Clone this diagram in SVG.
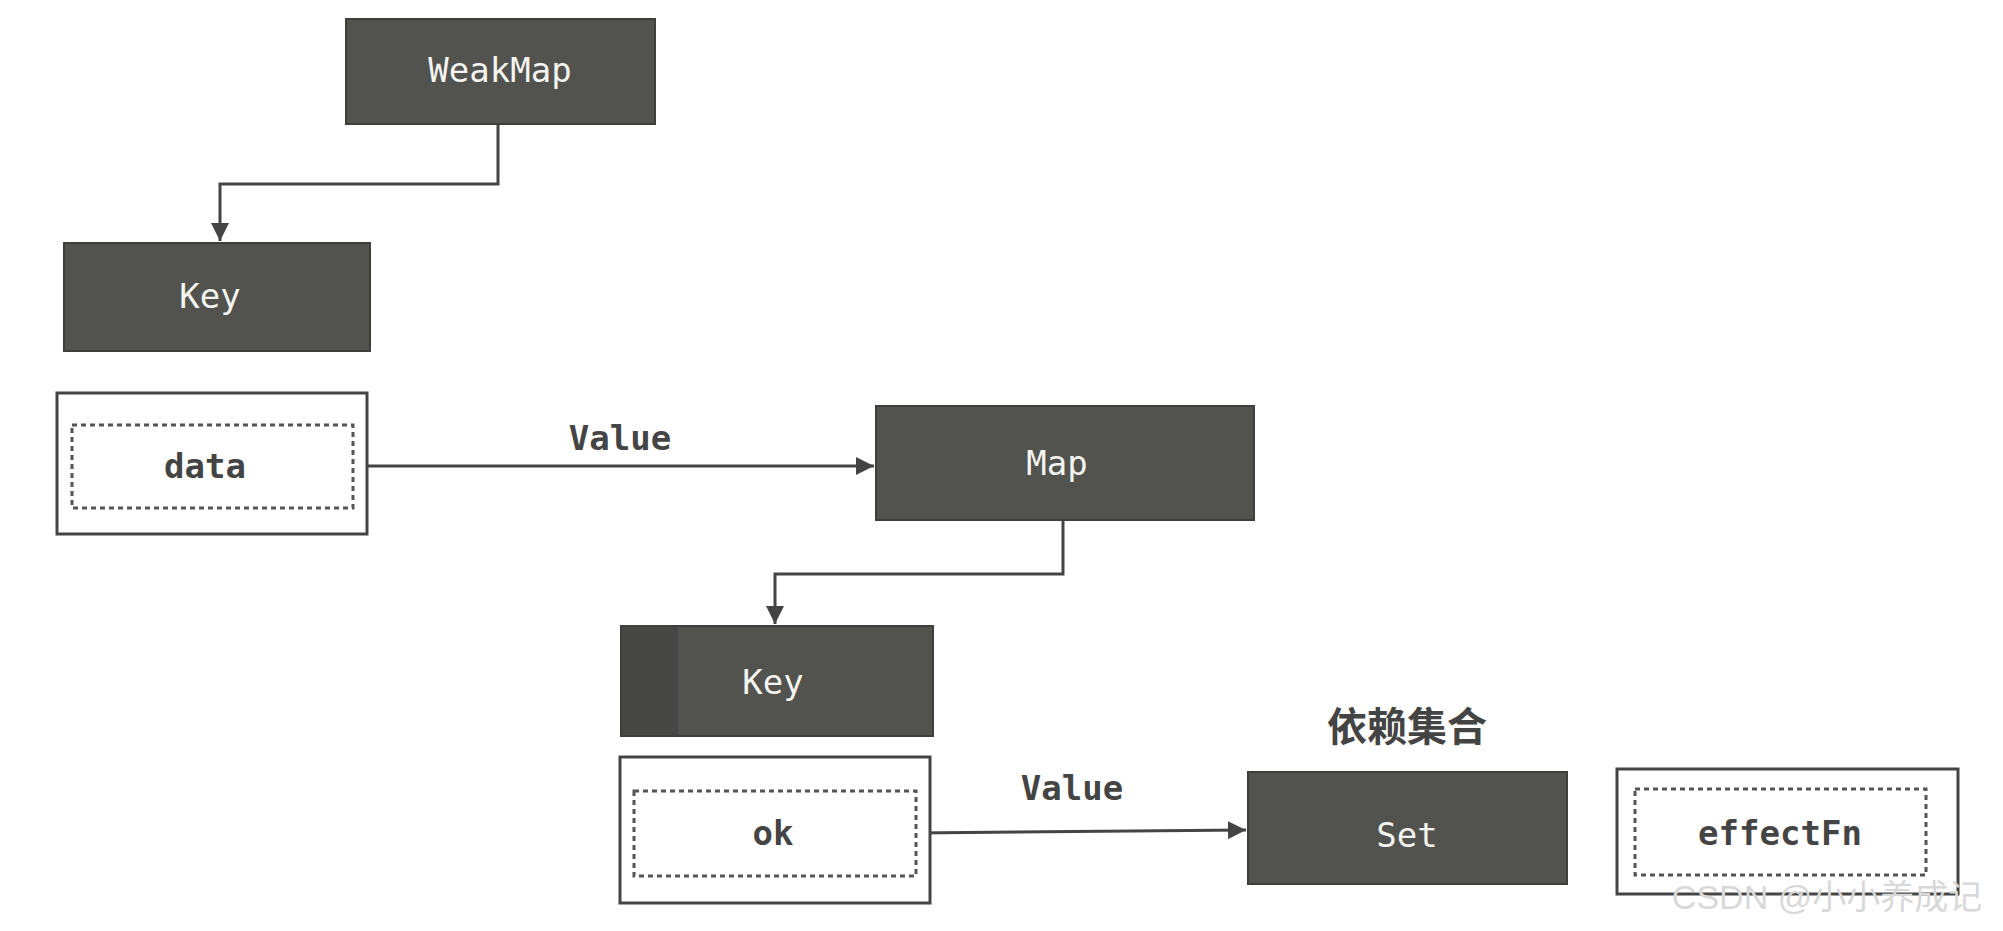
<svg xmlns="http://www.w3.org/2000/svg" width="2003" height="931" viewBox="0 0 2003 931">
<defs>
<style>
.dark{fill:#52524f;stroke:#3e3e3c;stroke-width:2}
.box{fill:#fff;stroke:#444;stroke-width:3}
.inner{fill:none;stroke:#555;stroke-width:3;stroke-dasharray:5 4}
.wt{font-family:"DejaVu Sans Mono",monospace;font-size:34px;fill:#f4f4f0;text-anchor:middle}
.bt{font-family:"DejaVu Sans Mono",monospace;font-size:34px;font-weight:bold;fill:#444;text-anchor:middle}
.ln{fill:none;stroke:#444;stroke-width:3}
</style>
<marker id="ah" viewBox="0 0 10 10" refX="10" refY="5" markerWidth="6" markerHeight="6" orient="auto" markerUnits="strokeWidth"><path d="M0,0 L10,5 L0,10 z" fill="#444"/></marker>
</defs>
<rect width="2003" height="931" fill="#fff"/>
<g id="connectors">
<path class="ln" d="M498,124 V184 H220 V241" marker-end="url(#ah)"/>
<path class="ln" d="M353,466 H874" marker-end="url(#ah)"/>
<text class="bt" x="620" y="450">Value</text>
<path class="ln" d="M1063,520 V574 H775 V624" marker-end="url(#ah)"/>
<path class="ln" d="M916,833 L1246,830" marker-end="url(#ah)"/>
<text class="bt" x="1072" y="800">Value</text>
</g>
<g id="weakmap"><rect class="dark" x="346" y="19" width="309" height="105"/><text class="wt" x="500" y="82">WeakMap</text></g>
<g id="key1"><rect class="dark" x="64" y="243" width="306" height="108"/><text class="wt" x="210" y="308">Key</text></g>
<g id="data"><rect class="box" x="57" y="393" width="310" height="141"/><rect class="inner" x="72" y="425" width="281" height="83"/><text class="bt" x="205" y="478">data</text></g>
<g id="map"><rect class="dark" x="876" y="406" width="378" height="114"/><text class="wt" x="1057" y="475">Map</text></g>
<g id="key2"><rect class="dark" x="621" y="626" width="312" height="110"/><rect x="622" y="627" width="56" height="108" fill="#474745"/><text class="wt" x="773" y="694">Key</text></g>
<g id="ok"><rect class="box" x="620" y="757" width="310" height="146"/><rect class="inner" x="634" y="791" width="282" height="85"/><text class="bt" x="773" y="845">ok</text></g>
<g id="set"><text x="1407" y="741" font-family="'Noto Sans CJK SC',sans-serif" font-size="40" font-weight="bold" fill="#444" text-anchor="middle">依赖集合</text><rect class="dark" x="1248" y="772" width="319" height="112"/><text class="wt" x="1407" y="847">Set</text></g>
<g id="effectfn"><rect class="box" x="1617" y="769" width="341" height="125"/><rect class="inner" x="1635" y="789" width="291" height="86"/><text class="bt" x="1780" y="845">effectFn</text></g>
<text x="1827" y="909" font-family="'Liberation Sans','Noto Sans CJK SC',sans-serif" font-size="34" fill="#d8d8d8" text-anchor="middle">CSDN @小小养成记</text>
</svg>
